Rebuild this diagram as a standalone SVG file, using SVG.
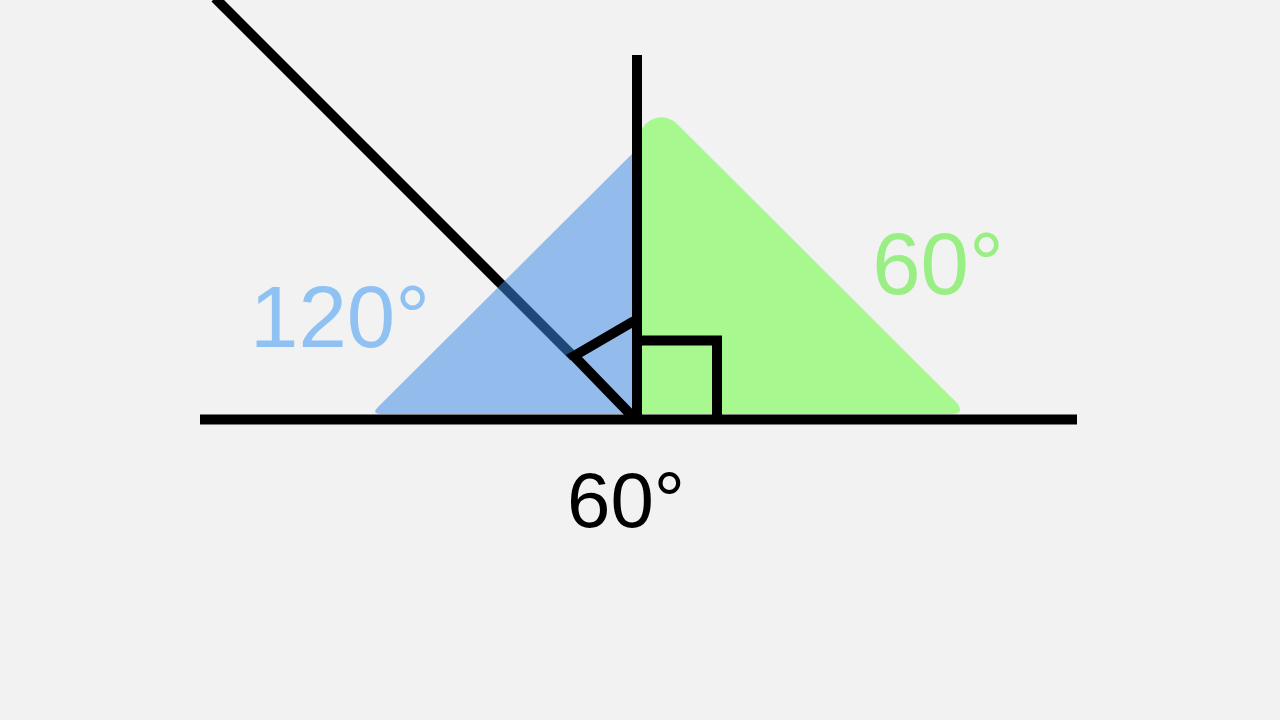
<svg xmlns="http://www.w3.org/2000/svg" width="1280" height="720" viewBox="0 0 1280 720">
<style>
.ln{stroke:#000;stroke-width:10;fill:none}
.lbl{font-family:"Liberation Sans",Arial,sans-serif;text-anchor:middle}
</style>
<rect width="1280" height="720" fill="#f2f2f2"/>
<g id="diagonal"><line class="ln" x1="215" y1="-2" x2="574" y2="357"/></g>
<g id="blue-region"><path d="M637,414 L637,149 L378,407 Q371,414 381,414 Z" fill="#3b8ae6" fill-opacity="0.52"/></g>
<g id="green-region"><path d="M640,414 L640,134 A22 22 0 0 1 677.6,124.4 L958,404 Q964,414 952,414 Z" fill="#a8f890"/></g>
<g id="connectors">
<line class="ln" x1="200" y1="419.5" x2="1077" y2="419.5"/>
<line class="ln" x1="637" y1="55" x2="637" y2="420"/>
<polyline class="ln" points="634,321 574,356 634,418"/>
<polyline class="ln" points="641,340.5 717,340.5 717,420"/>
</g>
<g id="label-120"><text class="lbl" x="340" y="347" font-size="87" fill="#8fc2f2">120°</text></g>
<g id="label-60-green"><text class="lbl" x="938" y="294" font-size="87" fill="#99ef84">60°</text></g>
<g id="label-60-black"><text class="lbl" x="626" y="527" font-size="78" fill="#000">60°</text></g>
</svg>
